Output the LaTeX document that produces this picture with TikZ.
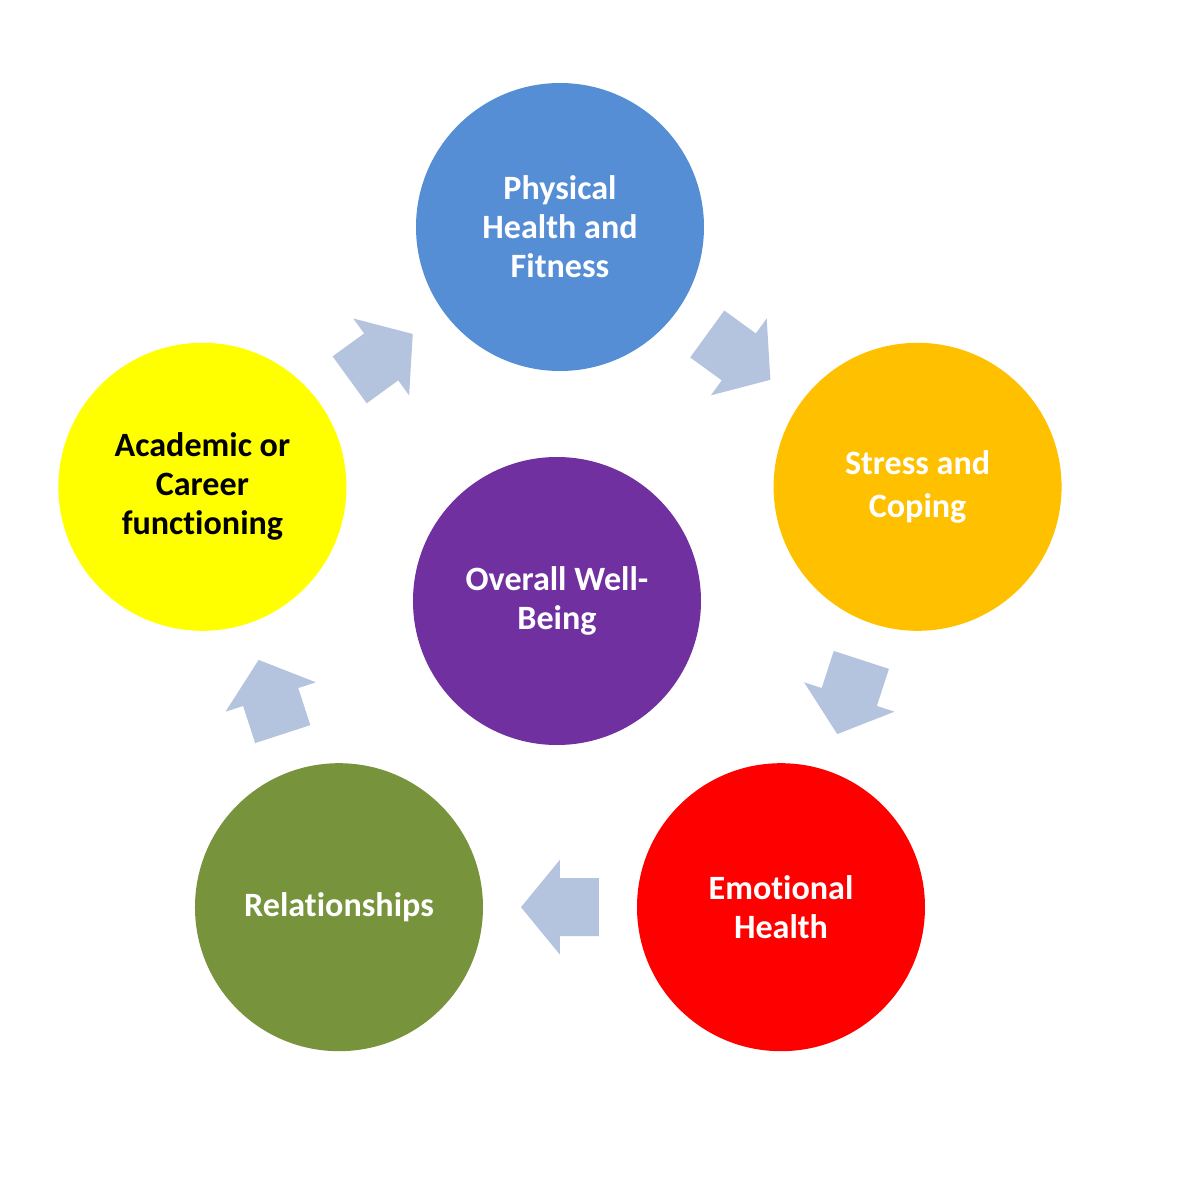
\documentclass[tikz,border=0pt]{standalone}
\usepackage{fontspec}
\setmainfont[RawFeature={-liga;-clig;-calt;-dlig}]{Carlito}
\usetikzlibrary{calc}

\definecolor{physicalblue}{HTML}{558ED5}
\definecolor{stressorange}{HTML}{FFC000}
\definecolor{emotionalred}{HTML}{FF0000}
\definecolor{relationgreen}{HTML}{77933C}
\definecolor{academicyellow}{HTML}{FFFF00}
\definecolor{wellpurple}{HTML}{7030A0}
\definecolor{arrowfill}{RGB}{180,195,222}

\begin{document}
\begin{tikzpicture}[bubble/.style={circle, minimum size=2.88cm, inner sep=0pt,
    align=center, text=white, font=\fontsize{9.7}{11.1}\selectfont\bfseries},
  cyclearrow/.pic={\fill[arrowfill] (0.39,0) -- (0,0.475) -- (0,0.29) -- (-0.39,0.29)
    -- (-0.39,-0.29) -- (0,-0.29) -- (0,-0.475) -- cycle;}]
  \useasboundingbox (-5.60,6.03) rectangle (6.40,-5.97);
  \node[bubble,fill=wellpurple] (overall) at (-0.03,0.02) {Overall Well-\\Being};
  \node[bubble,fill=physicalblue] (physical) at (90:3.76) {Physical\\Health and\\Fitness};
  \node[bubble,fill=stressorange,font=\fontsize{9.7}{12.2}\selectfont\bfseries] (stress) at (18:3.76) {Stress and\\Coping};
  \node[bubble,fill=emotionalred] (emotional) at (-54:3.76) {Emotional\\Health};
  \node[bubble,fill=relationgreen] (relationships) at (-126:3.76) {Relationships};
  \node[bubble,fill=academicyellow,text=black] (academic) at (162:3.76) {Academic or\\Career\\functioning};
  \foreach \a/\b/\ang in {academic/physical/36, physical/stress/-36, stress/emotional/-108,
      emotional/relationships/180, relationships/academic/108}
    \path ($(\a)!0.5!(\b)$) pic[rotate=\ang] {cyclearrow};
\end{tikzpicture}
\end{document}
